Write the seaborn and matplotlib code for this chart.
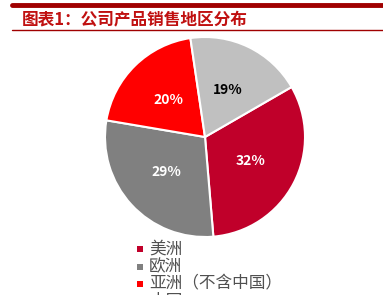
import matplotlib
matplotlib.use("Agg")
import matplotlib.pyplot as plt
import seaborn as sns
from matplotlib.patches import Rectangle
from matplotlib.lines import Line2D

sns.set_theme(style="white")
plt.rcParams['font.family'] = ['Noto Sans CJK SC', 'DejaVu Sans']

title = "图表1：公司产品销售地区分布"
regions = ["美洲", "欧洲", "亚洲（不含中国）", "中国"]
shares = [32, 29, 20, 19]
colors = ["#C0002A", "#808080", "#FF0000", "#C0C0C0"]
label_colors = ["white", "white", "white", "black"]

W, H = 383, 295
fig = plt.figure(figsize=(W / 100, H / 100), dpi=100)
fig.patch.set_facecolor("white")

# header lines and title
fig.add_artist(Line2D([12 / W, 1], [1 - 5 / H, 1 - 5 / H], color="#A00000", lw=3.5))
fig.add_artist(Line2D([12 / W, 1], [1 - 30 / H, 1 - 30 / H], color="#A00000", lw=1.0))
fig.text(22 / W, 1 - 19 / H, title, color="#C01010", fontsize=12, fontweight="bold",
         fontstyle="italic", va="center", ha="left")

# pie
cx, cy, r = 205, 137, 102
ax = fig.add_axes([(cx - r) / W, (H - cy - r) / H, 2 * r / W, 2 * r / H])
wedges, texts, autotexts = ax.pie(
    shares, colors=colors, startangle=30, counterclock=False,
    autopct="%d%%", pctdistance=0.52,
    wedgeprops=dict(edgecolor="white", linewidth=1.5),
    textprops=dict(fontsize=10, fontweight="bold"),
    radius=1.0)
for t, c in zip(autotexts, label_colors):
    t.set_color(c)
ax.set_xlim(-1.02, 1.02)
ax.set_ylim(-1.02, 1.02)
ax.set_aspect("equal")
ax.axis("off")

# legend (manual, stacked tightly as in the reference)
y0, dy = 249, 17.5
for i, (name, c) in enumerate(zip(regions, colors)):
    y = y0 + i * dy
    fig.add_artist(Rectangle((137 / W, 1 - (y + 3) / H), 6 / W, 6 / H,
                             transform=fig.transFigure, facecolor=c, edgecolor="none"))
    fig.text(149 / W, 1 - y / H, name, fontsize=12, color="#505050",
             va="center", ha="left")

fig.savefig("out.png", dpi=100, facecolor="white")
